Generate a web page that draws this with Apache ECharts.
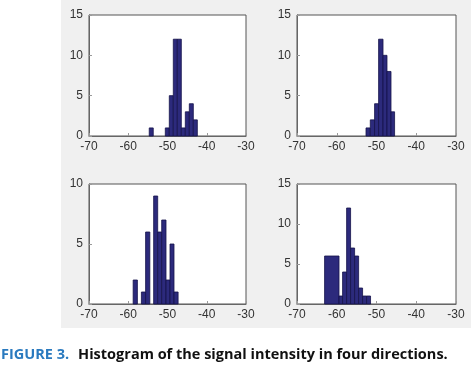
<!DOCTYPE html>
<html><head><meta charset="utf-8">
<script src="https://cdn.jsdelivr.net/npm/echarts@6/dist/echarts.min.js"></script>
<style>html,body{margin:0;padding:0;background:#fff}#c{width:474px;height:366px}</style>
</head><body><div id="c"></div>
<script>
// Histogram data: bin edges (dBm) and counts per bin
const xTicks = [-70, -60, -50, -40, -30];
const edges1 = [-54.65,-53.63,-52.61,-51.59,-50.56,-49.54,-48.52,-47.5,-46.48,-45.46,-44.44,-43.42,-42.4];
const counts1 = [1,0,0,0,1,5,12,12,1,3,4,2];
const edges2 = [-52.64,-51.56,-50.48,-49.47,-48.36,-47.36,-46.35,-45.45];
const counts2 = [1,2,4,12,10,8,3];
const edges3 = [-58.75,-57.67,-56.65,-55.58,-54.5,-53.53,-52.5,-51.48,-50.38,-49.36,-48.34,-47.3];
const counts3 = [2,0,1,6,0,9,6,7,2,5,1];
const edges4 = [-63.06,-59.43,-58.53,-57.52,-56.52,-55.51,-54.5,-53.5,-52.5,-51.5];
const counts4 = [6,1,4,12,7,6,2,1,1];
const yMax = [15, 15, 10, 15];
const captionLabel = 'FIGURE 3.';
const captionText = 'Histogram of the signal intensity in four directions.';

const panels = [[edges1,counts1],[edges2,counts2],[edges3,counts3],[edges4,counts4]];
const gridPos = [
  {left:89, top:15, width:157, height:121},
  {left:297, top:15, width:159, height:121},
  {left:89, top:184, width:157, height:120},
  {left:297, top:184, width:159, height:120}
];
const labelFont = {fontFamily:'Liberation Sans Narrow, Liberation Sans, sans-serif', fontSize:12, color:'#333'};

const grid=[], xAxis=[], yAxis=[], series=[];
panels.forEach((p,i)=>{
  grid.push(Object.assign({show:true, backgroundColor:'#fff', borderColor:'#555', borderWidth:1}, gridPos[i]));
  xAxis.push({type:'value', gridIndex:i, min:xTicks[0], max:xTicks[xTicks.length-1], interval:10,
    axisLine:{show:true, onZero:false, lineStyle:{color:'#666'}},
    axisTick:{show:true, inside:true, length:3, lineStyle:{color:'#999'}},
    splitLine:{show:false},
    axisLabel:Object.assign({margin:5}, labelFont)});
  yAxis.push({type:'value', gridIndex:i, min:0, max:yMax[i], interval:5,
    axisLine:{show:true, lineStyle:{color:'#666'}},
    axisTick:{show:true, inside:true, length:3, lineStyle:{color:'#999'}},
    splitLine:{show:false},
    axisLabel:Object.assign({margin:6}, labelFont)});
  const data = p[1].map((c,k)=>[p[0][k], p[0][k+1], c]).filter(d=>d[2]>0);
  series.push({type:'custom', xAxisIndex:i, yAxisIndex:i, data:data,
    encode:{x:[0,1], y:2},
    renderItem:function(params, api){
      const a = api.coord([api.value(0), api.value(2)]);
      const b = api.coord([api.value(1), 0]);
      return {type:'rect', shape:{x:a[0], y:a[1], width:b[0]-a[0], height:b[1]-a[1]},
        style:{fill:'#2c2a7c', stroke:'#15134a', lineWidth:0.8}};
    }});
});

const chart = echarts.init(document.getElementById('c'), null, {renderer:'canvas'});
chart.setOption({
  animation:false,
  backgroundColor:'#fff',
  graphic:[
    {type:'rect', z:-10, shape:{x:61, y:0, width:410, height:328}, style:{fill:'#f0f0f0'}},
    {type:'text', x:1, y:355, style:{
      text:'{a|'+captionLabel+'}{b|'+captionText+'}',
      verticalAlign:'middle',
      rich:{
        a:{fontFamily:'Open Sans, sans-serif', fontWeight:'bold', fontSize:14.5, fill:'#2a7abf', padding:[0,9,0,0]},
        b:{fontFamily:'Open Sans, sans-serif', fontWeight:'bold', fontSize:14.5, fill:'#111'}
      }}}
  ],
  grid:grid, xAxis:xAxis, yAxis:yAxis, series:series
});
</script></body></html>
